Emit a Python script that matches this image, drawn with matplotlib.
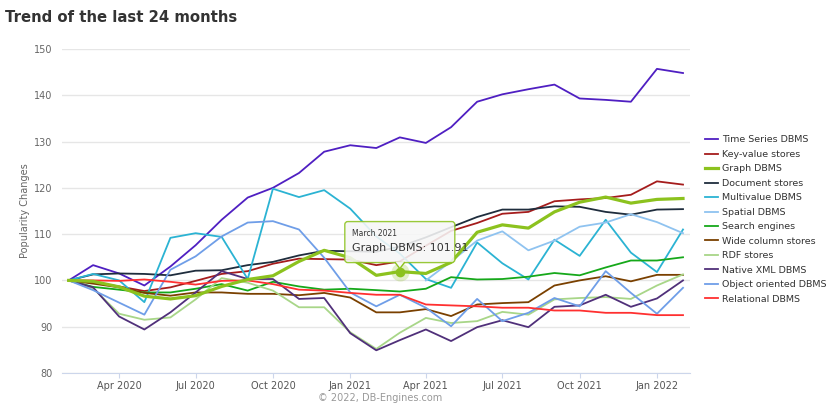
import numpy as np
import pandas as pd
import matplotlib
matplotlib.use('Agg')
import matplotlib.pyplot as plt
import matplotlib.dates as mdates
from matplotlib.patches import FancyBboxPatch, Polygon
from matplotlib.transforms import Affine2D, ScaledTranslation

months = pd.date_range('2020-02-01', periods=25, freq='MS')

time_series = [100, 103.3, 101.5, 98.9, 103.0, 107.6, 113.1, 117.9, 120.0, 123.2, 127.8, 129.2,
               128.6, 130.9, 129.7, 133.1, 138.6, 140.2, 141.3, 142.3, 139.3, 139.0, 138.6, 145.7, 144.8]
key_value = [100, 99.6, 98.7, 97.7, 98.5, 99.9, 101.4, 102.0, 103.6, 104.7, 104.6, 104.5,
             103.3, 104.1, 107.5, 110.7, 112.4, 114.4, 114.8, 117.1, 117.5, 117.8, 118.5, 121.4, 120.7]
graph = [100, 99.8, 98.6, 96.6, 96.0, 96.7, 98.7, 100.2, 101.0, 104.1, 106.5, 104.9,
         101.1, 101.91, 101.5, 103.9, 110.4, 112.0, 111.3, 114.8, 116.9, 118.0, 116.7, 117.5, 117.7]
document = [100, 101.3, 101.5, 101.4, 101.1, 102.1, 102.2, 103.3, 104.0, 105.4, 106.4, 106.3,
            106.2, 107.3, 109.3, 111.5, 113.7, 115.3, 115.3, 116.0, 115.9, 114.8, 114.2, 115.3, 115.4]
multivalue = [100, 101.4, 100.0, 95.3, 109.2, 110.2, 109.4, 100.3, 119.8, 118.0, 119.5, 115.5,
              109.5, 105.8, 100.3, 98.4, 108.2, 103.7, 100.2, 108.8, 105.3, 113.1, 106.0, 101.8, 111.0]
spatial = [None] * 14 + [100, 104.1, 108.6, 110.6, 106.5, 108.6, 111.6, 112.5, 114.3, 112.6, 110.2]
search = [100, 98.6, 98.0, 97.4, 97.4, 98.2, 99.2, 97.8, 99.7, 98.7, 98.0, 98.2,
          97.9, 97.6, 98.2, 100.7, 100.2, 100.3, 100.8, 101.6, 101.1, 102.8, 104.3, 104.3, 105.0]
wide_column = [100, 99.3, 98.5, 97.3, 96.7, 97.4, 97.4, 97.1, 97.1, 96.8, 97.3, 96.3,
               93.1, 93.1, 93.8, 92.3, 94.8, 95.1, 95.3, 98.9, 100.0, 100.9, 99.8, 101.2, 101.2]
rdf = [100, 98.3, 92.8, 91.5, 92.0, 95.9, 100.5, 99.5, 97.8, 94.2, 94.2, 88.8,
       85.2, 88.7, 91.9, 90.8, 91.2, 93.2, 92.6, 95.9, 96.2, 96.4, 96.0, 98.9, 101.3]
native_xml = [100, 98.5, 92.2, 89.4, 93.1, 97.4, 102.0, 100.3, 100.3, 96.0, 96.2, 88.6,
              84.9, 87.1, 89.4, 86.9, 89.9, 91.4, 89.9, 94.3, 94.6, 96.9, 94.3, 96.1, 100.0]
object_oriented = [100, 97.9, 95.2, 92.6, 102.3, 105.2, 109.5, 112.5, 112.8, 111.0, 104.9, 97.4,
                   94.4, 96.9, 94.1, 90.1, 96.0, 91.2, 93.0, 96.2, 94.4, 102.0, 97.3, 92.8, 98.4]
relational = [100, 100.0, 99.9, 100.2, 99.7, 99.1, 99.9, 100.0, 99.2, 98.0, 97.8, 97.3,
              96.9, 96.9, 94.8, 94.6, 94.4, 94.1, 94.1, 93.5, 93.5, 93.0, 93.0, 92.5, 92.5]

names = ['Time Series DBMS', 'Key-value stores', 'Graph DBMS', 'Document stores',
         'Multivalue DBMS', 'Spatial DBMS', 'Search engines', 'Wide column stores',
         'RDF stores', 'Native XML DBMS', 'Object oriented DBMS', 'Relational DBMS']
series = [time_series, key_value, graph, document, multivalue, spatial, search,
          wide_column, rdf, native_xml, object_oriented, relational]
colors = ['#4f1fc2', '#a51c1c', '#8cc21e', '#1f2d3d', '#2bb3d3', '#8fc3f0', '#16a81a',
          '#7a4000', '#a8d688', '#50307a', '#6f9ee8', '#ff3030']

fig = plt.figure(figsize=(8.3, 4.08), dpi=100)
ax = fig.add_axes([0.0747, 0.0858, 0.7563, 0.7942])

for name, vals, c in zip(names, series, colors):
    y = np.array([np.nan if v is None else v for v in vals], dtype=float)
    if name == 'Graph DBMS':
        ax.plot(months, y, color=c, lw=2.3, label=name, zorder=4)
    else:
        ax.plot(months, y, color=c, lw=1.3, label=name, zorder=3)

ax.set_ylim(80, 150)
ax.set_yticks(range(80, 151, 10))
ax.set_xlim(months[0] - pd.Timedelta(days=8), months[-1] + pd.Timedelta(days=8))
ax.xaxis.set_major_locator(mdates.MonthLocator(bymonth=[1, 4, 7, 10]))
ax.xaxis.set_major_formatter(mdates.DateFormatter('%b %Y'))
ax.grid(axis='y', color='#e6e6e6', lw=1)
ax.set_axisbelow(True)
for s in ['top', 'right', 'left']:
    ax.spines[s].set_visible(False)
ax.spines['bottom'].set_color('#ccd6eb')
ax.tick_params(axis='x', colors='#ccd6eb', length=3.5, pad=2, labelcolor='#555555', labelsize=7)
ax.tick_params(axis='y', length=0, labelcolor='#666666', labelsize=7, pad=7)
ax.set_ylabel('Popularity Changes', color='#666666', fontsize=7, labelpad=3)

# tooltip on March 2021 graph point
i = 13
px, py = mdates.date2num(months[i]), graph[i]
ax.plot([months[i]], [py], 'o', color=colors[2], ms=13, alpha=0.25, zorder=5, mec='none')
ax.plot([months[i]], [py], 'o', color=colors[2], ms=7, zorder=6, mec='none')
tr = Affine2D() + ScaledTranslation(px, py, ax.transData)
box = FancyBboxPatch((-55, 9), 110, 41, boxstyle='round,pad=0,rounding_size=3',
                     fc='#f7f7f7', ec=colors[2], lw=1, alpha=0.88, transform=tr,
                     clip_on=False, zorder=7)
ax.add_patch(box)
ax.add_patch(Polygon([(-5, 9.5), (0, 3), (5, 9.5)], closed=False, fc='#f7f7f7',
                     ec=colors[2], lw=1, transform=tr, clip_on=False, zorder=7))
ax.annotate('March 2021', (months[i], py), xytext=(-48, 38), textcoords='offset pixels',
            fontsize=5.5, color='#333333', va='center', zorder=8)
ax.annotate('Graph DBMS: 101.91', (months[i], py), xytext=(-48, 24), textcoords='offset pixels',
            fontsize=8, color='#333333', va='center', zorder=8)

fig.legend(loc='upper left', bbox_to_anchor=(0.849, 0.668), frameon=False, fontsize=6.8,
           handlelength=1.4, handletextpad=0.45, labelspacing=0.58, borderpad=0,
           borderaxespad=0, labelcolor='#333333')

fig.text(0.006, 0.958, 'Trend of the last 24 months', fontsize=10.7, fontweight='bold',
         color='#333333', va='center')
fig.text(0.458, 0.024, '\u00a9 2022, DB-Engines.com', fontsize=7, color='#999999',
         ha='center', va='center')

fig.savefig('out.png', dpi=100)
